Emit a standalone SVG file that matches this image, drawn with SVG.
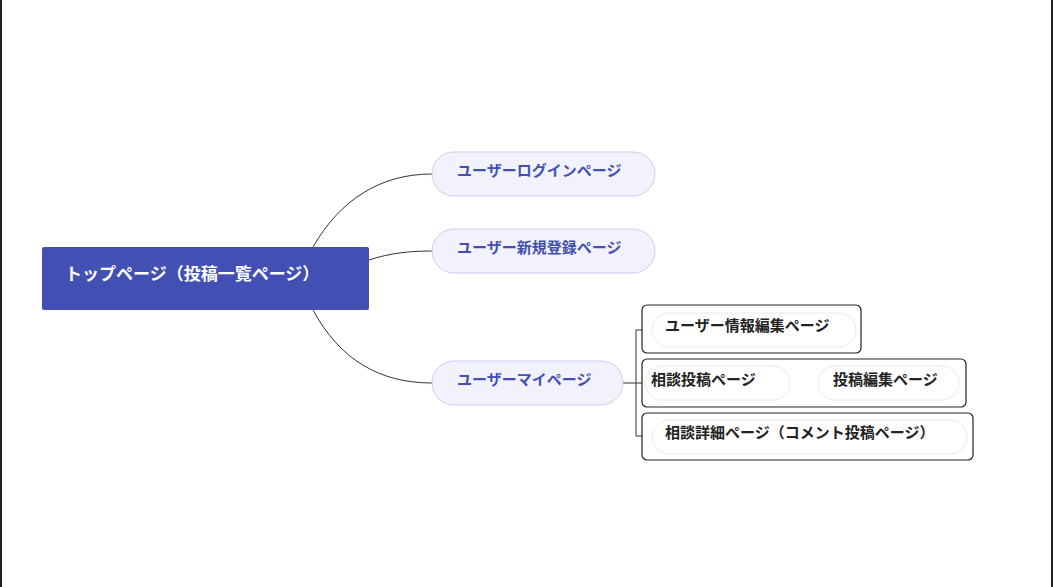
<svg xmlns="http://www.w3.org/2000/svg" width="1054" height="587" viewBox="0 0 1054 587">
<style>
text{font-family:"Noto Sans CJK JP","Noto Sans",sans-serif;font-weight:bold}
.c{fill:#f2f2fc;stroke:#c9ccf4;stroke-width:1}
.ct{fill:#4350b3;font-size:15px}
.box{fill:#fff;stroke:#222;stroke-width:1.2}
.g{fill:#fff;stroke:#eaeaea;stroke-width:1}
.gt{fill:#222;font-size:15px}
.l{fill:none;stroke:#333;stroke-width:1}
</style>
<rect width="1054" height="587" fill="#fff"/>
<line x1="1" y1="0" x2="1" y2="587" stroke="#222" stroke-width="2"/>
<line x1="1052" y1="0" x2="1052" y2="587" stroke="#222" stroke-width="2"/>
<g id="connectors">
<path class="l" d="M313,247 C340,200 380,174 432,174"/>
<path class="l" d="M369,260 C390,253 410,251 432,251"/>
<path class="l" d="M313,310 C340,360 380,383 432,383"/>
<path class="l" stroke="#666" d="M623,383 H636 M636,330 V436 M636,330 H652 M636,383 H652 M636,436 H652 M790,383 H818"/>
</g>
<g id="root"><rect x="42" y="247" width="327" height="63" rx="2" fill="#4350b3"/><text x="65" y="280" fill="#fff" font-size="17">トップページ（投稿一覧ページ）</text></g>
<g id="login"><rect class="c" x="432" y="152" width="223" height="44" rx="22"/><text class="ct" x="457" y="176">ユーザーログインページ</text></g>
<g id="signup"><rect class="c" x="432" y="229" width="223" height="44" rx="22"/><text class="ct" x="457" y="253">ユーザー新規登録ページ</text></g>
<g id="mypage"><rect class="c" x="432" y="361" width="191" height="44" rx="22"/><text class="ct" x="457" y="385">ユーザーマイページ</text></g>
<g id="edit-user"><rect class="box" x="642" y="305" width="219" height="48" rx="5"/><rect class="g" x="652" y="313" width="204" height="34" rx="17"/><text class="gt" x="665" y="331">ユーザー情報編集ページ</text></g>
<g id="post"><rect class="box" x="642" y="359" width="324" height="48" rx="5"/><rect class="g" x="645" y="366" width="145" height="34" rx="17"/><text class="gt" x="651" y="385">相談投稿ページ</text>
<rect class="g" x="818" y="366" width="141" height="34" rx="17"/><text class="gt" x="833" y="385">投稿編集ページ</text></g>
<g id="detail"><rect class="box" x="642" y="413" width="331" height="47" rx="5"/><rect class="g" x="652" y="420" width="315" height="34" rx="17"/><text class="gt" x="665" y="438">相談詳細ページ（コメント投稿ページ）</text></g>
</svg>
